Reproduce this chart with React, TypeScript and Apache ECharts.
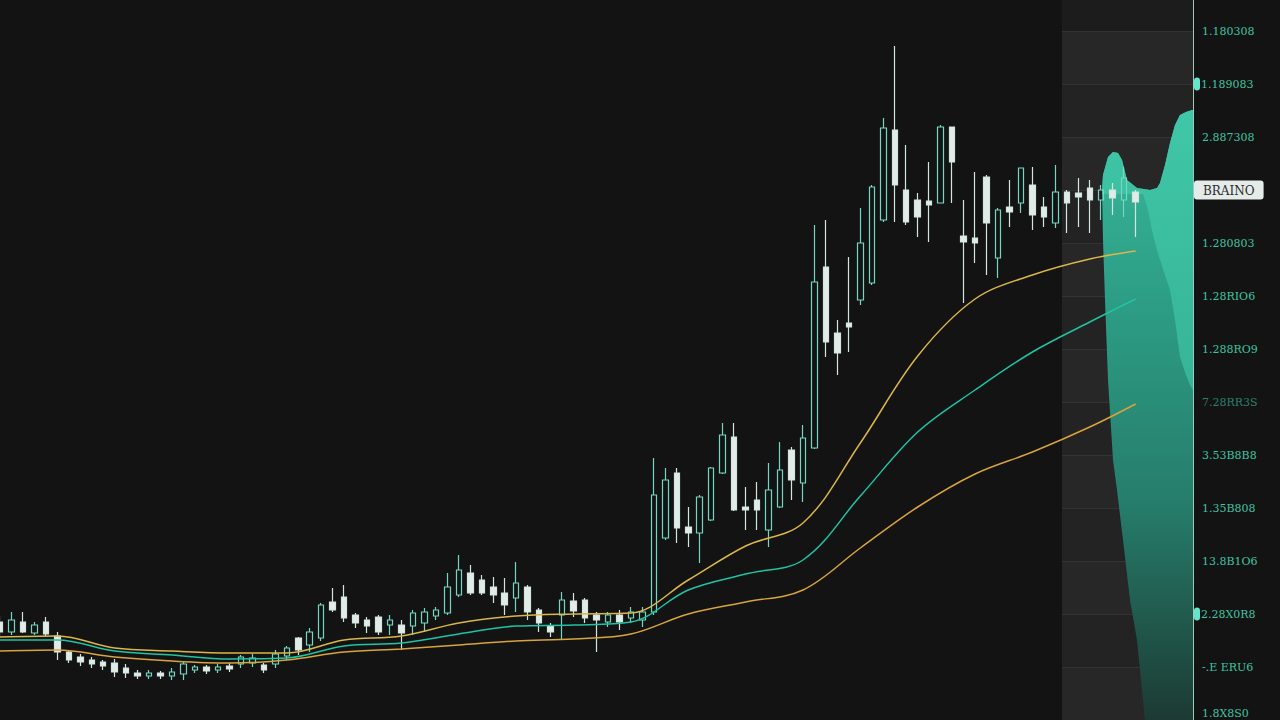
import React, { useEffect, useRef } from "react";
import * as echarts from "echarts";

// ---- data (price unit = 1px of the chart) ----
const categories = Array.from({ length: 105 }, (_, i) => `P${i + 1}`);

// [open, close, low, high]
const candles = [
  [98, 88, 83, 104], [88, 100, 85, 108], [98, 88, 87, 108], [87, 95, 85, 98], [98, 86, 83, 103],
  [84, 68, 60, 88], [68, 60, 57, 70], [63, 58, 54, 66], [60, 56, 52, 63], [58, 54, 50, 60],
  [57, 48, 43, 61], [52, 47, 42, 56], [47, 44, 41, 50], [44, 47, 41, 50], [47, 44, 41, 49],
  [44, 48, 40, 52], [46, 56, 40, 58], [50, 53, 47, 55], [53, 49, 46, 55], [50, 53, 47, 56],
  [54, 51, 48, 57], [56, 63, 52, 65], [57, 62, 53, 66], [55, 50, 47, 57], [56, 66, 52, 70],
  [64, 72, 60, 74], [82, 70, 65, 83], [75, 88, 68, 92], [82, 115, 79, 117], [118, 110, 108, 132],
  [123, 102, 98, 135], [105, 97, 92, 107], [100, 94, 87, 103], [103, 88, 85, 105], [95, 100, 85, 105],
  [95, 87, 70, 100], [94, 107, 85, 110], [97, 108, 88, 112], [104, 110, 100, 113], [107, 133, 105, 147],
  [125, 150, 123, 165], [147, 127, 125, 155], [140, 127, 125, 145], [133, 125, 117, 143], [127, 115, 105, 142],
  [122, 137, 108, 158], [133, 108, 100, 135], [110, 97, 88, 112], [94, 88, 83, 97], [105, 120, 80, 128],
  [119, 109, 103, 127], [120, 102, 97, 122], [105, 100, 68, 108], [98, 105, 93, 108], [105, 98, 90, 110],
  [102, 108, 97, 113], [100, 108, 93, 113], [108, 225, 105, 262], [182, 240, 180, 252], [247, 192, 177, 252],
  [193, 187, 173, 213], [187, 223, 157, 225], [200, 252, 199, 253], [247, 285, 246, 297], [283, 210, 209, 297],
  [213, 210, 190, 233], [220, 210, 190, 238], [190, 230, 173, 257], [213, 250, 212, 278], [270, 240, 220, 273],
  [237, 282, 218, 295], [272, 438, 271, 495], [453, 378, 363, 500], [387, 367, 345, 400], [397, 393, 368, 463],
  [420, 477, 415, 512], [437, 533, 435, 535], [500, 592, 498, 602], [590, 535, 498, 674], [530, 498, 495, 575],
  [520, 503, 483, 527], [519, 515, 478, 558], [517, 593, 517, 595], [593, 558, 517, 593], [484, 478, 417, 520],
  [482, 477, 457, 548], [543, 497, 445, 545], [462, 510, 442, 512], [513, 508, 493, 540], [517, 552, 507, 552],
  [535, 505, 490, 553], [513, 503, 493, 523], [497, 528, 492, 555], [528, 517, 487, 530], [527, 523, 493, 542],
  [532, 520, 487, 540], [520, 530, 500, 535], [530, 522, 505, 537], [520, 542, 503, 553], [528, 518, 483, 530],
];

// moving-average lines, sampled at these candle indices
const maIndex = [0, 5, 10, 15, 20, 25, 30, 35, 40, 45, 50, 55, 60, 65, 70, 75, 80, 85, 90, 95, 99];
const maUpper = [83, 84, 72, 69, 67, 67, 80, 84, 97, 104, 106, 107, 140, 174, 197, 277, 364, 421, 445, 461, 469];
const maMiddle = [80, 80, 69, 65, 61, 62, 74, 77, 86, 94, 95, 98, 130, 146, 160, 224, 288, 330, 368, 398, 421];
const maLower = [69, 70, 63, 59, 57, 60, 68, 71, 75, 79, 81, 86, 106, 118, 130, 172, 213, 246, 268, 293, 316];

// right-axis tick labels, top to bottom
const priceLabels = [
  "1.180308", "1.189083", "2.887308", "BRAINO", "1.280803", "1.28RIO6", "1.288RO9",
  "7.28RR3S", "3.53B8B8", "1.35B808", "13.8B1O6", "2.28X0R8", "-.E ERU6", "1.8X8S0",
];

// depth profile outline: [depth from right edge, price]
const profileBody = [
  [0, 610], [1, 610], [7, 608], [13, 605], [18, 595], [23, 577], [28, 555], [33, 537], [36, 532],
  [43, 530], [56, 532], [66, 540], [71, 560], [75, 567], [80, 568], [85, 563], [90, 545], [91, 530],
  [90, 480], [88, 420], [85, 340], [80, 260], [76, 230], [70, 180], [63, 120], [56, 80], [50, 20],
  [48, 0], [0, 0],
];
const profileLight = [
  [0, 610], [1, 610], [7, 608], [13, 605], [18, 595], [23, 577], [28, 555], [33, 537], [36, 532],
  [43, 530], [56, 532], [66, 540], [71, 560], [75, 567], [80, 568], [85, 563], [90, 545], [91, 530],
  [91, 526], [50, 526], [45, 510], [40, 485], [36, 470], [29, 448], [23, 430], [18, 400], [13, 363],
  [7, 345], [3, 335], [0, 330],
];

export default function App() {
  const ref = useRef<HTMLDivElement>(null);

  useEffect(() => {
    if (!ref.current) return;
    const chart = echarts.init(ref.current, undefined, { renderer: "svg" });

    const polygonSeries = (name: string, pts: number[][], fill: any, z: number) => ({
      name,
      type: "custom",
      xAxisIndex: 1,
      yAxisIndex: 1,
      silent: true,
      z,
      data: pts,
      renderItem: (params: any, api: any) => {
        if (params.dataIndex !== 0) return null;
        return {
          type: "polygon",
          shape: { points: pts.map((p) => api.coord(p)) },
          style: { fill, stroke: null },
        };
      },
    });

    const maSeries = (name: string, vals: number[], color: string) => ({
      name,
      type: "line",
      xAxisIndex: 0,
      yAxisIndex: 0,
      data: maIndex.map((i, k) => [i, vals[k]]),
      smooth: 0.35,
      showSymbol: false,
      connectNulls: true,
      lineStyle: { color, width: 1.5 },
      z: 5,
      silent: true,
    });

    const labelRich = {
      t: { color: "#3fc3a2", fontFamily: "DejaVu Serif", fontSize: 11, padding: [0, 0, 0, 8] },
      tm: { color: "#3fc3a2", fontFamily: "DejaVu Serif", fontSize: 11, padding: [0, 0, 0, 1] },
      dim: { color: "#2e7f6c", fontFamily: "DejaVu Serif", fontSize: 11, padding: [0, 0, 0, 8] },
      low: { color: "#3fc3a2", fontFamily: "DejaVu Serif", fontSize: 11, padding: [0, 0, 13, 8] },
      mk: { width: 6, height: 13, backgroundColor: "#63e6c9", borderRadius: 3 },
      box: {
        color: "#2b2b2b",
        fontFamily: "DejaVu Serif",
        fontSize: 12,
        backgroundColor: "#e4ebe8",
        borderRadius: 3,
        padding: [4, 9, 3, 9],
      },
    };

    chart.setOption({
      animation: false,
      backgroundColor: "#131313",
      grid: [
        { left: 0, right: 87, top: 31, bottom: 0, outerBoundsMode: "none" },
        { left: 1062, right: 87, top: 31, bottom: 0, outerBoundsMode: "none" },
        {
          left: 1062,
          right: 87,
          top: 0,
          bottom: 0,
          show: true,
          backgroundColor: "#1c1c1c",
          borderWidth: 0,
          outerBoundsMode: "none",
        },
      ],
      xAxis: [
        {
          type: "category",
          gridIndex: 0,
          data: categories,
          boundaryGap: false,
          show: false,
        },
        { type: "value", gridIndex: 1, min: 0, max: 131, inverse: true, show: false },
        { type: "value", gridIndex: 2, min: 0, max: 1, show: false },
      ],
      yAxis: [
        {
          type: "value",
          gridIndex: 0,
          position: "right",
          min: 0,
          max: 689,
          interval: 53,
          splitLine: { show: false },
          axisTick: { show: false },
          axisLine: { show: false },
          axisLabel: {
            margin: 1,
            color: "#3fc3a2",
            fontFamily: "DejaVu Serif",
            fontSize: 11,
            hideOverlap: false,
            showMinLabel: true,
            showMaxLabel: true,
            rich: labelRich,
            formatter: (v: number) => {
              const k = Math.round((689 - v) / 53);
              const t = priceLabels[k] ?? "";
              if (k === 3) return `{box|${t}}`;
              if (k === 1 || k === 11) return `{mk|}{tm|${t}}`;
              if (k === 7) return `{dim|${t}}`;
              if (k === 13) return `{low|${t}}`;
              return `{t|${t}}`;
            },
          },
        },
        {
          type: "value",
          gridIndex: 1,
          min: 0,
          max: 689,
          interval: 53,
          axisLabel: { show: false },
          axisLine: { show: false },
          axisTick: { show: false },
          splitLine: { show: true, lineStyle: { color: "#333333", width: 1 } },
          splitArea: { show: true, areaStyle: { color: ["#272727", "#232323"] } },
        },
        {
          type: "value",
          gridIndex: 2,
          position: "right",
          min: 0,
          max: 1,
          axisLabel: { show: false },
          axisTick: { show: false },
          splitLine: { show: false },
          axisLine: { show: true, onZero: false, lineStyle: { color: "#9fc8bd", width: 1 } },
        },
      ],
      series: [
        polygonSeries(
          "profile",
          profileBody,
          new echarts.graphic.LinearGradient(0, 0, 0, 1, [
            { offset: 0, color: "#3ab99c" },
            { offset: 0.3, color: "#2d9f86" },
            { offset: 0.65, color: "#267c6a" },
            { offset: 1, color: "#1c3a33" },
          ]),
          1
        ),
        polygonSeries(
          "profileLight",
          profileLight,
          new echarts.graphic.LinearGradient(0, 0, 0, 1, [
            { offset: 0, color: "#40c6a8" },
            { offset: 1, color: "#37b497" },
          ]),
          2
        ),
        {
          name: "price",
          type: "candlestick",
          xAxisIndex: 0,
          yAxisIndex: 0,
          data: candles,
          barWidth: 6,
          z: 4,
          itemStyle: {
            color: "rgba(0,0,0,0)",
            color0: "#e2ebe8",
            borderColor: "#74d8c1",
            borderColor0: "#d2e6df",
            borderWidth: 1.2,
          },
        },
        maSeries("MA fast", maUpper, "#dbb64a"),
        maSeries("MA mid", maMiddle, "#20c3a3"),
        maSeries("MA slow", maLower, "#d8a43c"),
      ],
    });

    return () => chart.dispose();
  }, []);

  return (
    <div
      ref={ref}
      style={{ position: "fixed", left: 0, top: 0, width: 1280, height: 720 }}
    />
  );
}
